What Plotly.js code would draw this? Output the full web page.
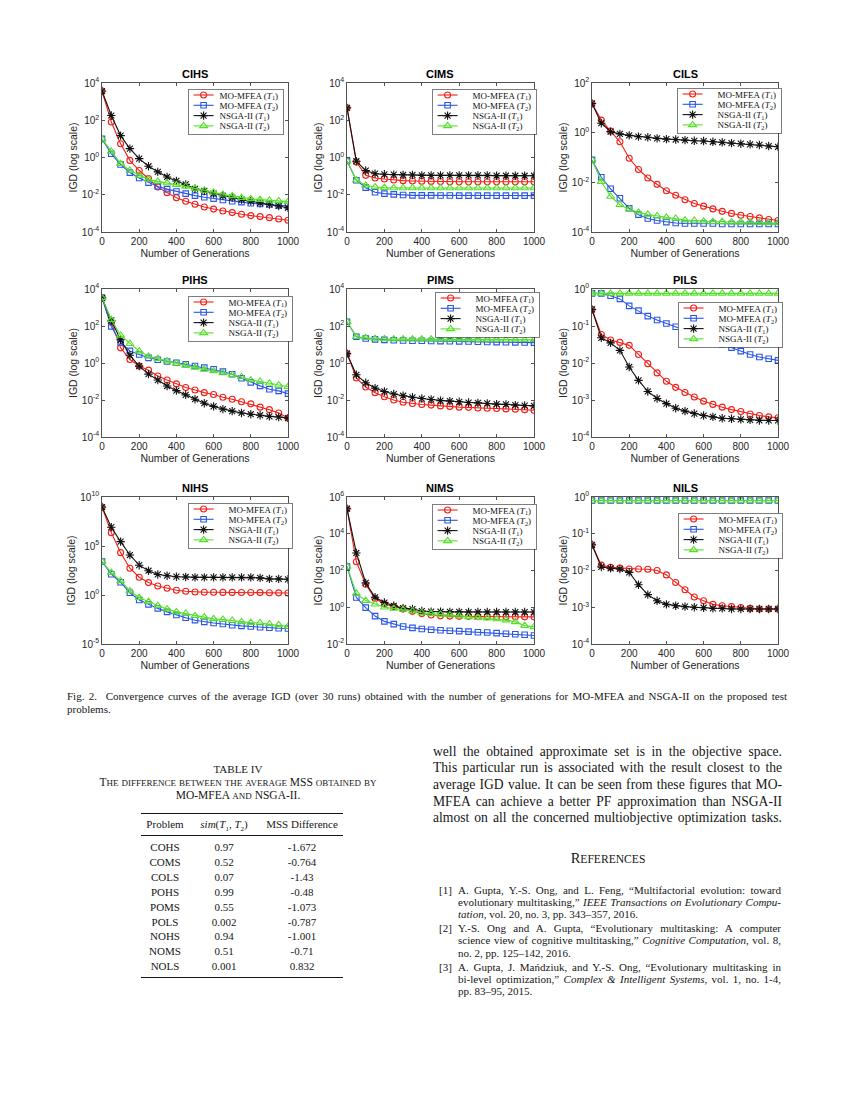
<!DOCTYPE html>
<html><head><meta charset="utf-8">
<script src="https://cdn.plot.ly/plotly-3.0.1.min.js"></script>
<style>
html,body{margin:0;padding:0;background:#fff;}
#page{position:relative;width:850px;height:1100px;overflow:hidden;background:#fff;}
#plot{position:absolute;left:0;top:0;width:850px;height:1100px;}
.t{position:absolute;z-index:2;font-family:'Liberation Serif','Times New Roman',serif;color:#161616;white-space:nowrap;}
.j{text-align:justify;text-align-last:justify;}
.rule{position:absolute;z-index:2;background:#161616;}
</style></head>
<body>
<div id="page">
<div id="plot"></div>
<div id="text"></div>
</div>
<script>
// ---------------- data ----------------
const gens = [0,50,100,150,200,250,300,350,400,450,500,550,600,650,700,750,800,850,900,950,1000];
const seriesNames = ['MO-MFEA (<i>T</i><sub>1</sub>)','MO-MFEA (<i>T</i><sub>2</sub>)','NSGA-II (<i>T</i><sub>1</sub>)','NSGA-II (<i>T</i><sub>2</sub>)'];

const cihs_mfea_t1 = [3700,81,5.5,0.7,0.2,0.074,0.026,0.013,0.007,0.0045,0.0031,0.0022,0.0017,0.00135,0.0011,0.0009,0.00076,0.00067,0.00059,0.0005,0.00043];
const cihs_mfea_t2 = [10,1.6,0.42,0.155,0.08,0.045,0.028,0.02,0.015,0.0115,0.009,0.0073,0.0062,0.0052,0.0045,0.004,0.0035,0.0032,0.003,0.0027,0.0025];
const cihs_nsga_t1 = [3700,180,15,3,0.87,0.34,0.17,0.09,0.055,0.036,0.021,0.016,0.0115,0.0087,0.007,0.0055,0.0045,0.0036,0.003,0.0025,0.002];
const cihs_nsga_t2 = [10,2.1,0.47,0.2,0.11,0.067,0.052,0.043,0.035,0.028,0.022,0.017,0.0135,0.0106,0.0087,0.007,0.006,0.0055,0.005,0.0047,0.0043];

const cims_mfea_t1 = [460,0.57,0.11,0.08,0.07,0.062,0.057,0.055,0.053,0.052,0.051,0.05,0.05,0.05,0.05,0.05,0.05,0.05,0.05,0.05,0.05];
const cims_mfea_t2 = [0.65,0.06,0.024,0.0135,0.0115,0.0105,0.0097,0.0093,0.0092,0.0092,0.0091,0.0091,0.009,0.009,0.009,0.009,0.009,0.009,0.009,0.009,0.009];
const cims_nsga_t1 = [460,0.63,0.2,0.135,0.125,0.12,0.115,0.115,0.11,0.11,0.11,0.11,0.11,0.11,0.11,0.11,0.105,0.105,0.105,0.105,0.105];
const cims_nsga_t2 = [0.65,0.06,0.032,0.026,0.024,0.023,0.023,0.023,0.023,0.023,0.023,0.023,0.023,0.023,0.023,0.023,0.023,0.023,0.023,0.023,0.023];

const cils_mfea_t1 = [15,3.2,1.15,0.43,0.093,0.033,0.015,0.0083,0.0046,0.003,0.002,0.0014,0.0011,0.00085,0.00068,0.00056,0.00047,0.00042,0.00037,0.00032,0.00029];
const cils_mfea_t2 = [0.08,0.016,0.0055,0.0023,0.0009,0.0005,0.00035,0.00029,0.00025,0.00023,0.00022,0.00022,0.00022,0.00022,0.00021,0.00021,0.00021,0.00021,0.00021,0.00021,0.00021];
const cils_nsga_t1 = [15,2.4,1.1,0.89,0.78,0.69,0.65,0.59,0.55,0.53,0.5,0.47,0.46,0.43,0.41,0.38,0.36,0.34,0.32,0.29,0.27];
const cils_nsga_t2 = [0.08,0.0107,0.0027,0.00125,0.00083,0.00062,0.00051,0.00044,0.00039,0.00035,0.0003,0.00029,0.00027,0.00026,0.00026,0.00025,0.00025,0.00024,0.00024,0.00023,0.00023];

const pihs_mfea_t1 = [3300,160,6.6,1.55,0.68,0.41,0.2,0.12,0.074,0.047,0.035,0.025,0.02,0.014,0.011,0.008,0.0062,0.0041,0.003,0.002,0.00105];
const pihs_mfea_t2 = [3300,95,12.6,4.5,2.9,1.9,1.5,1.2,1.03,0.85,0.69,0.56,0.46,0.34,0.245,0.15,0.09,0.058,0.038,0.031,0.022];
const pihs_nsga_t1 = [3300,200,18,2.6,0.68,0.25,0.12,0.057,0.032,0.019,0.011,0.0067,0.0045,0.0032,0.0025,0.002,0.0017,0.0015,0.0013,0.0012,0.00105];
const pihs_nsga_t2 = [3300,220,31,11,4.4,2.3,1.7,1.26,0.95,0.74,0.58,0.45,0.37,0.29,0.23,0.18,0.12,0.1,0.08,0.063,0.052];

const pims_mfea_t1 = [3.2,0.155,0.05,0.025,0.015,0.01,0.0076,0.0065,0.0057,0.0053,0.0048,0.0045,0.0041,0.004,0.0037,0.0036,0.0035,0.0033,0.0032,0.003,0.0028];
const pims_mfea_t2 = [170,26,21,19,17.7,17,16.5,16,15.8,15.5,15.2,15,14.7,14.4,14,13.7,13.4,13.2,13,12.8,12.6];
const pims_nsga_t1 = [3.2,0.23,0.085,0.044,0.029,0.021,0.017,0.014,0.012,0.0107,0.0093,0.0087,0.008,0.0073,0.007,0.0065,0.006,0.0058,0.0053,0.005,0.0048];
const pims_nsga_t2 = [170,26,23,21,20,19.5,19.5,19.5,19.5,19.5,19.5,19.5,19.5,19.5,19,19,19,18.5,18.5,18,18];

const pils_mfea_t1 = [0.28,0.059,0.042,0.036,0.03,0.017,0.0096,0.0054,0.0032,0.0022,0.0016,0.0012,0.00093,0.00076,0.00064,0.00055,0.00049,0.00042,0.00038,0.00035,0.00033];
const pils_mfea_t2 = [0.76,0.76,0.66,0.54,0.35,0.26,0.185,0.145,0.117,0.095,0.078,0.063,0.051,0.04,0.032,0.026,0.021,0.017,0.0145,0.013,0.0118];
const pils_nsga_t1 = [0.28,0.048,0.035,0.022,0.0078,0.0034,0.0017,0.0011,0.0008,0.0006,0.0005,0.00043,0.00038,0.00035,0.00032,0.00031,0.0003,0.00029,0.00028,0.00028,0.00028];
const pils_nsga_t2 = [0.76,0.76,0.76,0.76,0.76,0.76,0.76,0.76,0.76,0.76,0.76,0.76,0.76,0.76,0.76,0.76,0.76,0.76,0.76,0.76,0.76];

const nihs_mfea_t1 = [9.5e8,2.3e6,2.1e4,540,65,18.5,8.4,4.8,3,2.4,2,1.9,1.9,1.85,1.85,1.8,1.8,1.75,1.7,1.65,1.6];
const nihs_mfea_t2 = [2600,133,20,1.7,0.31,0.11,0.043,0.019,0.009,0.0047,0.0027,0.0018,0.0014,0.0011,0.00083,0.0007,0.0006,0.00051,0.00045,0.00041,0.00038];
const nihs_nsga_t1 = [9.5e8,8.3e6,2.8e5,1.2e4,1100,300,125,93,74,69,63,63,63,63,63,63,63,56,44,44,40];
const nihs_nsga_t2 = [2600,195,27,2.6,0.53,0.21,0.08,0.036,0.019,0.013,0.0075,0.0055,0.0037,0.0032,0.0025,0.0018,0.0015,0.0014,0.0011,0.0009,0.0006];

const nims_mfea_t1 = [2.3e5,300,18,3,1.5,1.1,0.8,0.6,0.45,0.38,0.34,0.33,0.32,0.32,0.31,0.31,0.3,0.3,0.3,0.3,0.3];
const nims_mfea_t2 = [165,3.4,0.95,0.33,0.17,0.12,0.09,0.075,0.066,0.06,0.056,0.053,0.05,0.047,0.044,0.042,0.039,0.036,0.034,0.032,0.029];
const nims_nsga_t1 = [2.3e5,900,21,3.5,1.8,1.2,0.9,0.8,0.62,0.58,0.57,0.56,0.56,0.55,0.55,0.55,0.55,0.55,0.55,0.55,0.55];
const nims_nsga_t2 = [165,5.6,2.3,1.45,1,0.85,0.75,0.62,0.5,0.45,0.41,0.37,0.33,0.3,0.27,0.25,0.23,0.2,0.16,0.1,0.085];

const nils_mfea_t1 = [0.05,0.014,0.0122,0.0117,0.011,0.011,0.0108,0.01,0.0076,0.0047,0.003,0.0019,0.0015,0.0012,0.0011,0.00104,0.00098,0.00093,0.0009,0.0009,0.0009];
const nils_mfea_t2 = [0.8,0.8,0.8,0.8,0.8,0.8,0.8,0.8,0.8,0.8,0.8,0.8,0.8,0.8,0.8,0.8,0.8,0.8,0.8,0.8,0.8];
const nils_nsga_t1 = [0.05,0.0125,0.0115,0.011,0.0089,0.0041,0.0022,0.0015,0.0012,0.0011,0.00104,0.001,0.00097,0.00093,0.00093,0.0009,0.0009,0.0009,0.0009,0.0009,0.0009];
const nils_nsga_t2 = [0.8,0.8,0.8,0.8,0.8,0.8,0.8,0.8,0.8,0.8,0.8,0.8,0.8,0.8,0.8,0.8,0.8,0.8,0.8,0.8,0.8];

// table IV
const tableProblems = ['COHS','COMS','COLS','POHS','POMS','POLS','NOHS','NOMS','NOLS'];
const tableSim = ['0.97','0.52','0.07','0.99','0.55','0.002','0.94','0.51','0.001'];
const tableMss = ['-1.672','-0.764','-1.43','-0.48','-1.073','-0.787','-1.001','-0.71','0.832'];

// ---------------- panel config ----------------
const panels = [
  {title:'CIHS', s:[cihs_mfea_t1,cihs_mfea_t2,cihs_nsga_t1,cihs_nsga_t2], yr:[-4,4], tk:[-4,-2,0,2,4], col:0,row:0, lg:[188,89]},
  {title:'CIMS', s:[cims_mfea_t1,cims_mfea_t2,cims_nsga_t1,cims_nsga_t2], yr:[-4,4], tk:[-4,-2,0,2,4], col:1,row:0, lg:[432,89]},
  {title:'CILS', s:[cils_mfea_t1,cils_mfea_t2,cils_nsga_t1,cils_nsga_t2], yr:[-4,2], tk:[-4,-2,0,2], col:2,row:0, lg:[677,88]},
  {title:'PIHS', s:[pihs_mfea_t1,pihs_mfea_t2,pihs_nsga_t1,pihs_nsga_t2], yr:[-4,4], tk:[-4,-2,0,2,4], col:0,row:1, lg:[188,296]},
  {title:'PIMS', s:[pims_mfea_t1,pims_mfea_t2,pims_nsga_t1,pims_nsga_t2], yr:[-4,4], tk:[-4,-2,0,2,4], col:1,row:1, lg:[435,292]},
  {title:'PILS', s:[pils_mfea_t1,pils_mfea_t2,pils_nsga_t1,pils_nsga_t2], yr:[-4,0], tk:[-4,-3,-2,-1,0], col:2,row:1, lg:[678,302]},
  {title:'NIHS', s:[nihs_mfea_t1,nihs_mfea_t2,nihs_nsga_t1,nihs_nsga_t2], yr:[-5,10], tk:[-5,0,5,10], col:0,row:2, lg:[188,503]},
  {title:'NIMS', s:[nims_mfea_t1,nims_mfea_t2,nims_nsga_t1,nims_nsga_t2], yr:[-2,6], tk:[-2,0,2,4,6], col:1,row:2, lg:[432,504]},
  {title:'NILS', s:[nils_mfea_t1,nils_mfea_t2,nils_nsga_t1,nils_nsga_t2], yr:[-4,0], tk:[-4,-3,-2,-1,0], col:2,row:2, lg:[678,513]}
];
const colX = [[102,288],[347,534],[592,778]];
const rowY = [[83,232],[289,437],[497,644]];
const W = 850, H = 1100;
const styles = [
  {color:'#f2201a', symbol:'circle-open', size:6},
  {color:'#2a56e8', symbol:'square-open', size:5.5},
  {color:'#111111', symbol:'asterisk-open', size:7},
  {color:'#55e02a', symbol:'triangle-up-open', size:7}
];

const traces = [];
const layout = {
  width:W, height:H, autosize:false,
  margin:{l:0,r:0,t:0,b:0},
  paper_bgcolor:'#ffffff', plot_bgcolor:'#ffffff',
  font:{family:'Liberation Sans, Arial, sans-serif', color:'#262626'},
  showlegend:true,
  annotations:[]
};
const axBase = {
  showline:true, mirror:'ticks', linecolor:'#262626', linewidth:0.8,
  ticks:'inside', ticklen:3, tickwidth:0.8, tickcolor:'#262626',
  showgrid:false, zeroline:false,
  tickfont:{family:'Liberation Sans, Arial, sans-serif', size:10, color:'#262626'}
};

panels.forEach((p, k) => {
  const i = k + 1;
  const xs = i === 1 ? '' : String(i);
  const [x0, x1] = colX[p.col];
  const [y0, y1] = rowY[p.row];
  layout['xaxis' + xs] = Object.assign({}, axBase, {
    domain:[x0 / W, x1 / W], anchor:'y' + xs, range:[0, 1000],
    tickmode:'array', tickvals:[0,200,400,600,800,1000],
    title:{text:'Number of Generations', font:{size:10.5, color:'#262626'}, standoff:3}
  });
  layout['yaxis' + xs] = Object.assign({}, axBase, {
    domain:[1 - y1 / H, 1 - y0 / H], anchor:'x' + xs, type:'log', range:p.yr,
    tickmode:'array', tickvals:p.tk.map(e => Math.pow(10, e)),
    ticktext:p.tk.map(e => '10<sup>' + e + '</sup>'),
    title:{text:'IGD (log scale)', font:{size:10.5, color:'#262626'}, standoff:2}
  });
  const lgId = 'legend' + xs;
  layout[lgId] = {
    x:p.lg[0] / W, y:1 - p.lg[1] / H, xanchor:'left', yanchor:'top',
    xref:'paper', yref:'paper',
    bgcolor:'#ffffff', bordercolor:'#262626', borderwidth:0.6,
    font:{family:'Liberation Serif, Times New Roman, serif', size:9, color:'#111'},
    itemwidth:30, tracegroupgap:0
  };
  layout.annotations.push({
    text:'<b>' + p.title + '</b>', xref:'paper', yref:'paper',
    x:(x0 + x1) / 2 / W, y:1 - 82 / H - (y0 - 83) / H, xanchor:'center', yanchor:'bottom',
    showarrow:false, font:{family:'Liberation Sans, Arial, sans-serif', size:11, color:'#000'}
  });
  p.s.forEach((vals, j) => {
    const st = styles[j];
    traces.push({
      x:gens, y:vals, type:'scatter', mode:'lines+markers',
      name:seriesNames[j], legend:lgId,
      xaxis:'x' + xs, yaxis:'y' + xs,
      line:{color:st.color, width:1.1},
      marker:{symbol:st.symbol, size:st.size, color:st.color, line:{color:st.color, width:1.1}},
      hoverinfo:'skip'
    });
  });
});

function compactLegends() {
  const step = 10.3, first = 6, boxH = 45, textX = 31;
  document.querySelectorAll('#plot g.infolayer > g').forEach(lg => {
    const cls = lg.getAttribute('class') || '';
    if (!/^legend\d*$/.test(cls)) return;
    let maxRight = 0;
    lg.querySelectorAll('g.scrollbox').forEach(sb => sb.removeAttribute('clip-path'));
    lg.querySelectorAll('g.traces').forEach((t, i) => {
      const tr = t.getAttribute('transform') || '';
      const m = /translate\(\s*([-\d.e]+)[ ,]+([-\d.e]+)\s*\)/.exec(tr);
      const x = m ? parseFloat(m[1]) : 0;
      t.setAttribute('transform', 'translate(' + x + ',' + (first + i * step) + ')');
      t.querySelectorAll('path.js-line').forEach(pth => pth.setAttribute('d', 'M5,0h20'));
      t.querySelectorAll('g.legendpoints path.scatterpts').forEach(pth => pth.setAttribute('transform', 'translate(15,0)'));
      t.querySelectorAll('text.legendtext').forEach(tx => {
        tx.setAttribute('x', textX);
        tx.querySelectorAll('tspan.line').forEach(ts => ts.setAttribute('x', textX));
        try {
          const bb = tx.getBBox();
          maxRight = Math.max(maxRight, x + bb.x + bb.width);
        } catch (e) {}
      });
    });
    lg.querySelectorAll('rect.bg').forEach(bg => {
      bg.setAttribute('height', boxH);
      if (maxRight > 0) bg.setAttribute('width', maxRight + 5);
    });
  });
}

Plotly.newPlot('plot', traces, layout, {staticPlot:true, displayModeBar:false}).then(compactLegends);

// ---------------- page text ----------------
const tx = document.getElementById('text');
function add(html, style, cls) {
  const d = document.createElement('div');
  d.className = 't' + (cls ? ' ' + cls : '');
  d.setAttribute('style', style);
  d.innerHTML = html;
  tx.appendChild(d);
  return d;
}
// manual small caps: runs of lowercase letters become smaller capitals
function smallCaps(s, big, small) {
  return s.replace(/[a-z]+/g, m => '<span style="font-size:' + small + 'px">' + m.toUpperCase() + '</span>');
}
// caption
add('Fig. 2.&nbsp;&nbsp;Convergence curves of the average IGD (over 30 runs) obtained with the number of generations for MO-MFEA and NSGA-II on the proposed test',
    'left:67px;top:690px;width:720px;font-size:11px;line-height:13px;white-space:normal;', 'j');
add('problems.', 'left:67px;top:703px;font-size:11px;line-height:13px;');

// table title
add('TABLE IV', 'left:58px;top:763px;width:360px;text-align:center;font-size:11px;line-height:13px;');
add(smallCaps('The difference between the average MSS obtained by', 11.5, 9), 'left:38px;top:776px;width:400px;text-align:center;font-size:11.5px;line-height:13px;');
add(smallCaps('MO-MFEA and NSGA-II.', 11.5, 9), 'left:58px;top:788.5px;width:360px;text-align:center;font-size:11.5px;line-height:13px;');

// table rules
function rule(top, h) {
  const r = document.createElement('div');
  r.className = 'rule';
  r.setAttribute('style', 'left:141px;width:202px;top:' + top + 'px;height:' + h + 'px;');
  tx.appendChild(r);
}
rule(812.5, 1.1); rule(834.7, 0.6); rule(976.5, 1.1);
const colC = [165, 224, 302];
const head = ['Problem', '<i>sim</i>(<i>T</i><sub style="font-size:7px">1</sub>, <i>T</i><sub style="font-size:7px">2</sub>)', 'MSS Difference'];
head.forEach((h, c) => add(h, 'left:' + (colC[c] - 50) + 'px;width:100px;text-align:center;top:817px;font-size:11px;line-height:14px;'));
tableProblems.forEach((p, r) => {
  const cy = 847 + r * 14.9;
  [p, tableSim[r], tableMss[r]].forEach((v, c) => {
    add(v, 'left:' + (colC[c] - 50) + 'px;width:100px;text-align:center;top:' + (cy - 7) + 'px;font-size:11px;line-height:14px;');
  });
});

// right column paragraph
const paraLines = [
  'well the obtained approximate set is in the objective space.',
  'This particular run is associated with the result closest to the',
  'average IGD value. It can be seen from these figures that MO-',
  'MFEA can achieve a better PF approximation than NSGA-II',
  'almost on all the concerned multiobjective optimization tasks.'
];
paraLines.forEach((l, i) => add(l, 'left:433px;width:349px;white-space:normal;top:' + (743.7 + i * 16.67) + 'px;font-size:13.6px;line-height:16.67px;', 'j'));

add(smallCaps('References', 14.5, 11.6), 'left:508px;width:200px;text-align:center;top:850px;font-size:14.5px;line-height:16px;');

const refs = [
  ['[1]', ['A. Gupta, Y.-S. Ong, and L. Feng, “Multifactorial evolution: toward',
           'evolutionary multitasking,” <i>IEEE Transactions on Evolutionary Compu-</i>',
           '<i>tation</i>, vol. 20, no. 3, pp. 343–357, 2016.'], 890],
  ['[2]', ['Y.-S. Ong and A. Gupta, “Evolutionary multitasking: A computer',
           'science view of cognitive multitasking,” <i>Cognitive Computation</i>, vol. 8,',
           'no. 2, pp. 125–142, 2016.'], 928.7],
  ['[3]', ['A. Gupta, J. Mańdziuk, and Y.-S. Ong, “Evolutionary multitasking in',
           'bi-level optimization,” <i>Complex &amp; Intelligent Systems</i>, vol. 1, no. 1-4,',
           'pp. 83–95, 2015.'], 967]
];
refs.forEach(([lab, lines, cy]) => {
  add(lab, 'left:439px;top:' + (cy - 6.5) + 'px;font-size:11px;line-height:13px;');
  lines.forEach((l, i) => {
    const last = i === lines.length - 1;
    add(l, 'left:458px;width:323px;white-space:normal;top:' + (cy - 6.5 + i * 12.2) + 'px;font-size:11px;line-height:13px;', last ? '' : 'j');
  });
});
</script>
</body></html>
